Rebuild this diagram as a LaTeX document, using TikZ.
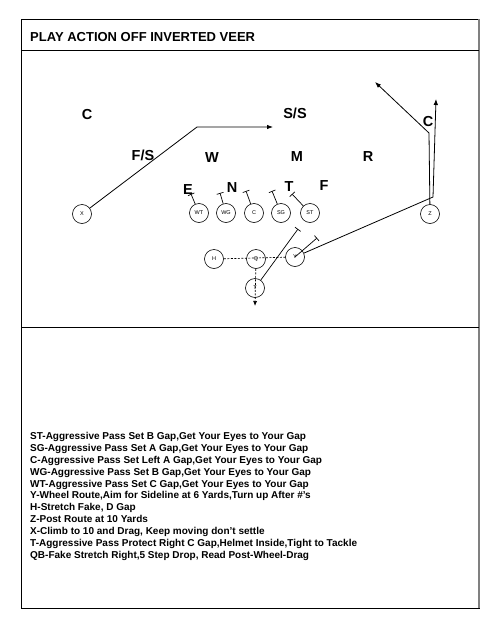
\documentclass[tikz,border=0pt]{standalone}
\usepackage{fontspec}
\setmainfont{Liberation Sans}
\usetikzlibrary{arrows.meta}

\begin{document}
\begin{tikzpicture}[x=1pt,y=-1pt,
    player/.style={circle,draw,line width=0.6pt,minimum size=19pt,inner sep=0pt,font=\fontsize{5.5}{5.5}\selectfont},
    defender/.style={font=\bfseries\fontsize{14.5}{15}\selectfont,inner sep=0pt},
    route/.style={line width=0.8pt,-{Latex[length=6pt,width=4.5pt]}},
    block/.style={line width=0.7pt,-{Bar[width=7pt,line width=0.7pt]}},
    fake/.style={line width=0.7pt,dash pattern=on 2pt off 1.5pt}]
  \useasboundingbox (0,0) rectangle (494,640);
  \draw[line width=0.8pt] (21,19) rectangle (479,608);
  \draw[gray,line width=1.5pt] (479,19) -- (479,608);
  \draw[line width=0.8pt] (21,50) -- (479,50);
  \draw[line width=0.8pt] (21,327) -- (479,327);
  \node[anchor=west,inner sep=0pt,font=\bfseries\fontsize{13}{13}\selectfont] (title) at (30,37) {PLAY ACTION OFF INVERTED VEER};

  % offense
  \node[player] (X) at (82,214) {X};
  \node[player] (WT) at (199,213) {WT};
  \node[player] (WG) at (226,213) {WG};
  \node[player] (C) at (254,213) {C};
  \node[player] (SG) at (281,213) {SG};
  \node[player] (ST) at (310,213) {ST};
  \node[player] (H) at (214,259) {H};
  \node[player] (Q) at (256,259) {Q};
  \node[player] (Y) at (295,257) {Y};
  \node[player] (T) at (255,288) {T};
  \node[player] (Z) at (430,214) {Z};

  % defense
  \node[defender] (cbL) at (87,115) {C};
  \node[defender] (ss) at (295,113) {S/S};
  \node[defender] (fs) at (143,155) {F/S};
  \node[defender] (wlb) at (212,158) {W};
  \node[defender] (mlb) at (297,157) {M};
  \node[defender] (rov) at (368,157) {R};
  \node[defender] (deE) at (188,190) {E};
  \node[defender] (dtN) at (232,188) {N};
  \node[defender] (dtT) at (289,187) {T};
  \node[defender] (deF) at (324,186) {F};
  \node[defender] (cbR) at (428,122) {C};

  % blocks
  \draw[block] (WT) -- ++(-8,-19);
  \draw[block] (WG) -- ++(-6,-20);
  \draw[block] (C) -- ++(-8,-22);
  \draw[block] (SG) -- ++(-9,-22);
  \draw[block] (ST) -- ++(-18,-19);
  \draw[block] (Y.center) -- ++(22,-19);
  \draw[block] (T) -- ++(43,-59);

  % routes
  \coordinate (xbreak) at (197,127);
  \coordinate (xend) at (273,127);
  \draw[route] (X) -- (xbreak) -- (xend);
  \coordinate (zbreak) at (429,133);
  \coordinate (zend) at (375,82);
  \draw[route] (Z) -- (zbreak) -- (zend);
  \coordinate (ybreak) at (433,197);
  \coordinate (yend) at (436,99);
  \draw[route] (Y) -- (ybreak) -- (yend);

  % fake and drop
  \draw[fake] (H) -- (Y);
  \coordinate (qdrop) at (255,306);
  \draw[fake,-{Latex[length=5pt,width=4pt]}] (Q) -- (qdrop);

  \node[anchor=north west,align=left,inner sep=0pt,font=\bfseries\fontsize{10}{11.9}\selectfont] (notes) at (30,432) {ST-Aggressive Pass Set B Gap,Get Your Eyes to Your Gap\\
SG-Aggressive Pass Set A Gap,Get Your Eyes to Your Gap\\
C-Aggressive Pass Set Left A Gap,Get Your Eyes to Your Gap\\
WG-Aggressive Pass Set B Gap,Get Your Eyes to Your Gap\\
WT-Aggressive Pass Set C Gap,Get Your Eyes to Your Gap\\
Y-Wheel Route,Aim for Sideline at 6 Yards,Turn up After \#'s\\
H-Stretch Fake, D Gap\\
Z-Post Route at 10 Yards\\
X-Climb to 10 and Drag, Keep moving don't settle\\
T-Aggressive Pass Protect Right C Gap,Helmet Inside,Tight to Tackle\\
QB-Fake Stretch Right,5 Step Drop, Read Post-Wheel-Drag};
\end{tikzpicture}
\end{document}
